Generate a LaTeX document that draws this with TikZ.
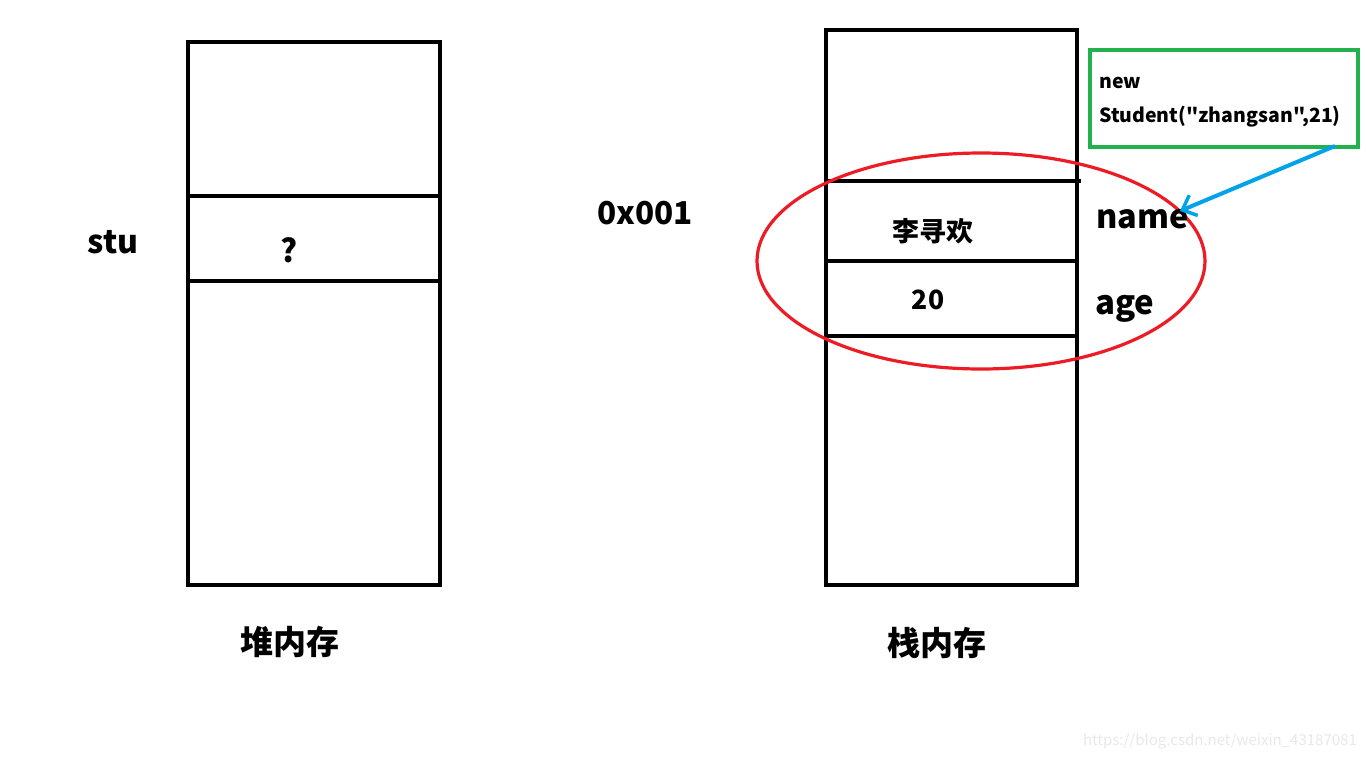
\documentclass[tikz,border=0pt]{standalone}
\usepackage{fontspec}
\setmainfont{Noto Sans CJK SC}
\newfontfamily\cjk{Noto Sans CJK SC}
\usetikzlibrary{arrows.meta}
\definecolor{redc}{RGB}{237,28,36}
\definecolor{greenc}{RGB}{34,177,76}
\definecolor{bluec}{RGB}{0,162,232}
\definecolor{wm}{RGB}{232,232,232}
\tikzset{
  mem/.style={line width=4.5pt, line cap=rect},
  lbl/.style={font=\cjk\bfseries\fontsize{#1}{#1}\selectfont, inner sep=0pt},
  lbl/.default=26
}
\begin{document}
\begin{tikzpicture}[x=1pt,y=-1pt]
\useasboundingbox (0,0) rectangle (1366,758);
% left (heap) box
\draw[mem] (188,42) rectangle (440,585);
\draw[mem] (188,196) -- (440,196);
\draw[mem] (188,281) -- (440,281);
% right (stack) box
\draw[mem] (826,30) -- (1077,30) -- (1077,585) -- (826,585) -- cycle;
\draw[mem] (826,181) -- (1079,181);
\draw[mem] (826,261) -- (1077,261);
\draw[mem] (826,336) -- (1077,336);
% ellipse
\draw[redc, line width=3.2pt] (981,261) ellipse [x radius=224, y radius=108];
% green box
\node[draw=greenc, line width=4pt, minimum width=268pt, minimum height=97pt, anchor=north west, inner sep=0pt] (code) at (1088,48) {};
\node[lbl=19.5, anchor=west] (t1) at (1099,83) {new};
\node[lbl=19.5, anchor=west] (t2) at (1099,117) {Student("zhangsan",21)};
% labels
\node[lbl=32] (stu) at (113,242) {stu};
\node[lbl=32] (q) at (289,250) {?};
\node[lbl=31.5] (addr) at (645,213) {0x001};
\node[lbl=27] (lxh) at (933,231) {李寻欢};
\node[lbl=26.5] (age20) at (928,300) {20};
\node[lbl=32.5, anchor=west] (name) at (1096,219) {name};
\node[lbl=33, anchor=west] (age) at (1095,309) {age};
\node[lbl=33] (heap) at (290,642) {堆内存};
\node[lbl=33] (stack) at (937,643) {栈内存};
% arrow
\coordinate (as) at (1335,146);
\coordinate (ae) at (1180,211);
\draw[bluec, line width=4pt, -{Straight Barb[length=12pt,width=22pt,line width=3.5pt]}] (as) -- (ae);
% watermark
\node[font=\fontsize{15}{15}\selectfont, text=wm, anchor=east, inner sep=0pt] (wmk) at (1357,741) {https://blog.csdn.net/weixin\_43187081};
\end{tikzpicture}
\end{document}
